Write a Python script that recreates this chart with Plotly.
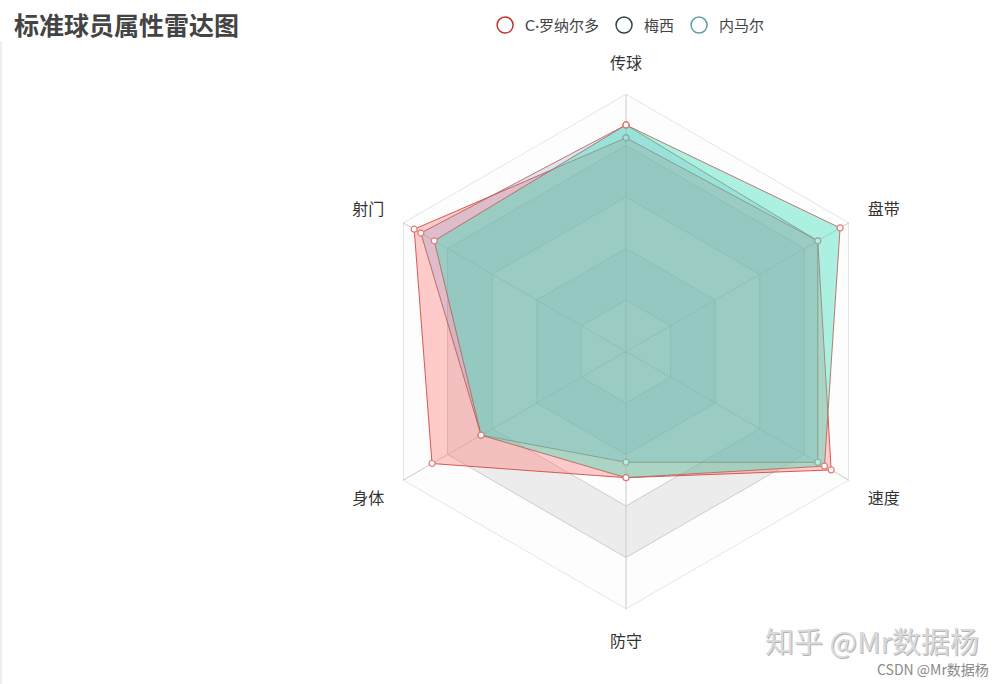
import plotly.graph_objects as go

# 属性（顺时针，从顶部开始）
categories = ["传球", "盘带", "速度", "防守", "身体", "射门"]

players = ["C·罗纳尔多", "梅西", "内马尔"]
ronaldo = [83, 86, 92, 49, 87, 95]
messi = [88, 86, 86, 43, 65, 92]
neymar = [88, 96, 89, 49, 65, 86]

ring_levels = [100, 80, 60, 40, 20]

FONT = "Noto Sans CJK SC, Noto Sans, sans-serif"
LEGEND_FONT = "Lato, Noto Sans CJK SC, sans-serif"

legend_colors = ["#c23531", "#2f4554", "#61a0a8"]
fill_colors = ["rgba(255,110,110,0.36)", "rgba(110,140,200,0.22)", "rgba(70,225,190,0.45)"]
line_colors = ["rgba(214,80,72,0.95)", "rgba(175,95,85,0.85)", "rgba(180,100,90,0.85)"]
ring_fills = ["#fdfdfd", "#ececec", "#fdfdfd", "#ececec", "#fdfdfd"]

theta_closed = categories + [categories[0]]

fig = go.Figure()

# 背景分隔区域
for lvl, col in zip(ring_levels, ring_fills):
    fig.add_trace(go.Scatterpolar(
        r=[lvl] * 7, theta=theta_closed, mode="lines", fill="toself",
        fillcolor=col, line=dict(color="#cccccc", width=1),
        hoverinfo="skip", showlegend=False))

# 轴线
spoke_r, spoke_t = [], []
for c in categories:
    spoke_r += [0, ring_levels[0], None]
    spoke_t += [c, c, None]
fig.add_trace(go.Scatterpolar(
    r=spoke_r, theta=spoke_t, mode="lines",
    line=dict(color="#cccccc", width=1), hoverinfo="skip", showlegend=False))

for name, vals, fc, lc, gc in zip(players, [ronaldo, messi, neymar],
                                  fill_colors, line_colors, legend_colors):
    fig.add_trace(go.Scatterpolar(
        r=vals + [vals[0]], theta=theta_closed, name=name,
        mode="lines+markers", fill="toself", fillcolor=fc,
        line=dict(color=lc, width=1),
        marker=dict(size=6, color="white", line=dict(color="#e07a72", width=1.2)),
        legendgroup=name, showlegend=False))
    # 图例图标（空心圆）
    fig.add_trace(go.Scatterpolar(
        r=[None], theta=[categories[0]], name=name, mode="markers",
        marker=dict(symbol="circle-open", size=18, color=gc, line=dict(width=1.5)),
        legendgroup=name, showlegend=True))

fig.update_layout(
    width=1005, height=684,
    margin=dict(l=0, r=0, t=0, b=0),
    paper_bgcolor="white",
    font=dict(family=FONT, size=13, color="#333"),
    title=dict(text="<b>标准球员属性雷达图</b>", x=0.014, xanchor="left",
               y=0.962, yanchor="middle",
               font=dict(family=FONT, size=25, color="#444")),
    legend=dict(orientation="h", x=0.624, xanchor="center", y=0.963,
                yanchor="middle", font=dict(family=LEGEND_FONT, size=15, color="#444"),
                itemwidth=30, bgcolor="rgba(0,0,0,0)"),
    polar=dict(
        domain=dict(x=[0.3667, 0.8791], y=[0.1096, 0.8626]),
        gridshape="linear",
        bgcolor="white",
        radialaxis=dict(range=[0, 100], showticklabels=False, ticks="",
                        showline=False, showgrid=False),
        angularaxis=dict(direction="clockwise", rotation=90,
                         showgrid=False, showline=False,
                         ticks="outside", ticklen=18,
                         tickcolor="rgba(0,0,0,0)",
                         tickfont=dict(size=16, color="#333")),
    ),
    shapes=[dict(type="line", xref="paper", yref="paper", x0=0.001, x1=0.001,
                 y0=0, y1=0.94, line=dict(color="#dddddd", width=1))],
    annotations=[
        dict(text="知乎 @Mr数据杨", x=0.976, y=0.064, xref="paper", yref="paper",
             xanchor="right", yanchor="middle", showarrow=False,
             font=dict(family=FONT, size=29, color="#dadada",
                       shadow="1px 1px 0px #b4b4b4")),
        dict(text="CSDN @Mr数据杨", x=0.986, y=0.022, xref="paper", yref="paper",
             xanchor="right", yanchor="middle", showarrow=False,
             font=dict(family=FONT, size=14, color="#8a8a8a")),
    ],
)

fig.write_html("out.html", config={"displayModeBar": False},
               post_script="document.body.style.margin='0';")
